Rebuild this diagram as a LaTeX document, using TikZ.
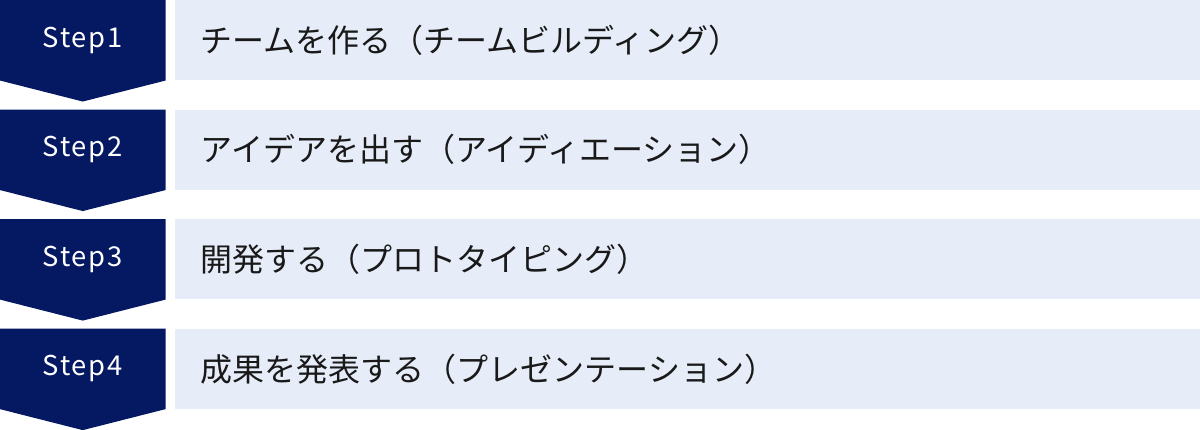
\documentclass[tikz,border=0pt]{standalone}
\usepackage{fontspec}
\newfontfamily\jpfont{Noto Sans CJK JP}
\newfontfamily\stepfont[LetterSpace=7]{Noto Sans CJK JP}
\usetikzlibrary{positioning,calc}
\definecolor{stepnavy}{RGB}{5,24,98}
\definecolor{rowblue}{RGB}{230,236,248}

\begin{document}
\begin{tikzpicture}[
node distance = 21.75pt,
every node/.style = {
	inner sep = 0pt
},
stepbox/.style = {
	minimum width = 123.75pt,
	minimum height = 60pt,
	text = white,
	font = \stepfont\fontsize{20.5pt}{24pt}\selectfont
},
row/.style = {
	fill = rowblue,
	minimum height = 60pt,
	inner xsep = 19.5pt,
	text width = 730.5pt,
	align = left,
	text = black!90,
	font = \jpfont\fontsize{24pt}{28pt}\selectfont
},
tip/.style = {
	fill = stepnavy
}
]

\useasboundingbox (0,0) rectangle (900pt,-321.75pt);

\node (step1) [stepbox, anchor = north west] at (0,0) {};
\node (step2) [stepbox, below = of step1] {};
\node (step3) [stepbox, below = of step2] {};
\node (step4) [stepbox, below = of step3] {};

\fill [tip] (step1.north west) -- (step1.north east) -- (step1.south east) -- ($(step1.south)+(0,-15.75pt)$) -- (step1.south west) -- cycle;
\fill [tip] (step2.north west) -- (step2.north east) -- (step2.south east) -- ($(step2.south)+(0,-15.75pt)$) -- (step2.south west) -- cycle;
\fill [tip] (step3.north west) -- (step3.north east) -- (step3.south east) -- ($(step3.south)+(0,-15.75pt)$) -- (step3.south west) -- cycle;
\fill [tip] (step4.north west) -- (step4.north east) -- (step4.south east) -- ($(step4.south)+(0,-15.75pt)$) -- (step4.south west) -- cycle;

\node (step1_t) [stepbox] at (step1.center) {Step1};
\node (step2_t) [stepbox] at (step2.center) {Step2};
\node (step3_t) [stepbox] at (step3.center) {Step3};
\node (step4_t) [stepbox] at (step4.center) {Step4};

\node (row1) [row, right = 6.75pt of step1] {チームを作る（チームビルディング）};
\node (row2) [row, right = 6.75pt of step2] {アイデアを出す（アイディエーション）};
\node (row3) [row, right = 6.75pt of step3] {開発する（プロトタイピング）};
\node (row4) [row, right = 6.75pt of step4] {成果を発表する（プレゼンテーション）};

\end{tikzpicture}
\end{document}
